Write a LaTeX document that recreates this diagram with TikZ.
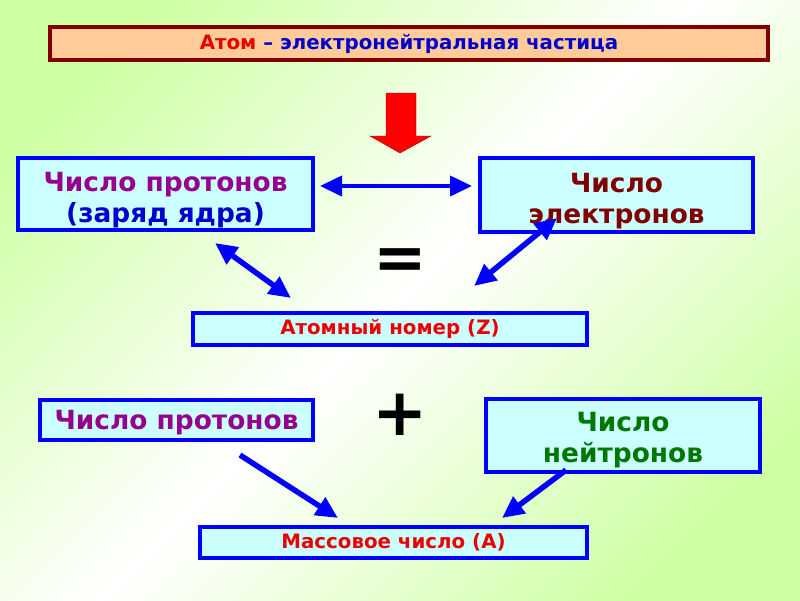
\documentclass[tikz,border=0pt]{standalone}
\usepackage{fontspec}
\setmainfont{DejaVu Sans}
\usetikzlibrary{arrows.meta}
\definecolor{bggreen}{RGB}{204,255,160}
\definecolor{peach}{RGB}{255,204,153}
\definecolor{darkred}{RGB}{128,0,0}
\definecolor{boxcyan}{RGB}{204,255,255}
\definecolor{boxblue}{RGB}{0,0,255}
\definecolor{txtpurple}{RGB}{150,0,140}
\definecolor{txtblue}{RGB}{0,0,204}
\definecolor{txtred}{RGB}{235,0,0}
\definecolor{txtgreen}{RGB}{0,120,0}
\pgfdeclarehorizontalshading{bgshade}{100bp}{color(0bp)=(bggreen); color(22bp)=(bggreen); color(50bp)=(white); color(78bp)=(bggreen); color(100bp)=(bggreen)}
\newcommand\lowerit[2]{\raisebox{-#1}[\height][\depth]{\begin{tabular}{@{}c@{}}#2\end{tabular}}}
\tikzset{
  box/.style={draw=boxblue, fill=boxcyan, line width=3.5pt, inner sep=0pt, align=center, font=\bfseries},
  bigtxt/.style={font=\fontsize{26.4}{31}\selectfont\bfseries},
  smalltxt/.style={font=\fontsize{19.8}{22}\selectfont\bfseries},
  conn/.style={draw=boxblue, line width=5.5pt, -{Triangle[length=22pt,width=20pt]}},
  dconn/.style={draw=boxblue, line width=5.5pt, {Triangle[length=22pt,width=20pt]}-{Triangle[length=22pt,width=20pt]}},
}
\begin{document}
\begin{tikzpicture}[x=1pt,y=-1pt]
\useasboundingbox (0,0) rectangle (800,600);
\shade[shading=bgshade, shading angle=-45] (0,0) rectangle (800,600);
% title
\node[draw=darkred, fill=peach, line width=4pt, minimum width=718pt, minimum height=33pt, inner sep=0pt,
  font=\fontsize{19.8}{22}\selectfont\bfseries] (title) at (409,43.5)
  {\textcolor{txtred}{Атом} \textcolor{txtblue}{– электронейтральная частица}};
% red arrow
\fill[red, draw=darkred, line width=0.4pt] (386,93) -- (416,93) -- (416,136) -- (431,136) -- (400,153) -- (370,136) -- (386,136) -- cycle;
% boxes
\node[box, bigtxt, minimum width=295pt, minimum height=72pt] (prot1) at (165.5,194)
  {\lowerit{6.5pt}{\textcolor{txtpurple}{Число протонов}\\\textcolor{txtblue}{(заряд ядра)}}};
\node[box, bigtxt, minimum width=273pt, minimum height=74pt] (elec) at (616.5,195)
  {\lowerit{6.5pt}{\textcolor{darkred}{Число}\\\textcolor{darkred}{электронов}}};
\node[box, smalltxt, minimum width=394pt, minimum height=32pt] (znum) at (390,329)
  {\textcolor{txtred}{Атомный номер (Z)}};
\node[box, bigtxt, minimum width=273pt, minimum height=40pt] (prot2) at (176.5,420)
  {\lowerit{3pt}{\textcolor{txtpurple}{Число протонов}}};
\node[box, bigtxt, minimum width=274pt, minimum height=73pt] (neut) at (623,435.5)
  {\lowerit{5pt}{\textcolor{txtgreen}{Число}\\\textcolor{txtgreen}{нейтронов}}};
\node[box, smalltxt, minimum width=387pt, minimum height=31pt] (anum) at (393.5,542.5)
  {\textcolor{txtred}{Массовое число (А)}};
% signs
\node[font=\fontsize{64}{64}\selectfont\bfseries] (eq) at (400,264) {=};
\node[font=\fontsize{66}{66}\selectfont\bfseries] (plus) at (400,415) {+};
% connector end points
\coordinate (h1) at (320,186);
\coordinate (h2) at (472,186);
\coordinate (d1a) at (215,243);
\coordinate (d1b) at (291,298);
\coordinate (d2a) at (557,218);
\coordinate (d2b) at (474,286);
\coordinate (s1a) at (240,455);
\coordinate (s1b) at (338,518);
\coordinate (s2a) at (566,470);
\coordinate (s2b) at (502,518);
\draw[dconn, line width=4pt] (h1) -- (h2);
\draw[dconn] (d1a) -- (d1b);
\draw[dconn] (d2a) -- (d2b);
\draw[conn] (s1a) -- (s1b);
\draw[conn] (s2a) -- (s2b);
\end{tikzpicture}
\end{document}
